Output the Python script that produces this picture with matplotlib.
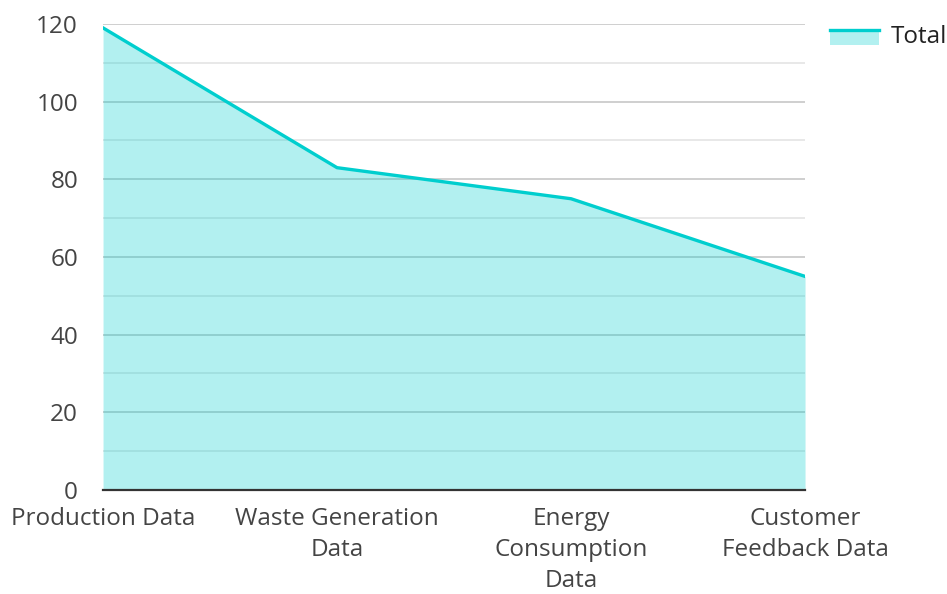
import numpy as np
import matplotlib.pyplot as plt
from matplotlib.patches import Rectangle
from matplotlib.lines import Line2D

plt.rcParams['font.family'] = ['Open Sans', 'DejaVu Sans']

# data
categories = ["Production Data", "Waste Generation\nData", "Energy\nConsumption\nData", "Customer\nFeedback Data"]
totals = [119, 83, 75, 55]

line_color = '#00cece'


# legend key: light box with the line along its top edge
class AreaHandler:
    def legend_artist(self, legend, orig_handle, fontsize, handlebox):
        x0, y0 = handlebox.xdescent, handlebox.ydescent
        w, h = handlebox.width, handlebox.height
        box = Rectangle((x0, y0 - 0.1 * h), w, 0.85 * h, facecolor=line_color, alpha=0.3,
                        linewidth=0, transform=handlebox.get_transform())
        ln = Line2D([x0, x0 + w], [y0 + 0.75 * h, y0 + 0.75 * h], color=line_color,
                    linewidth=2.4, transform=handlebox.get_transform())
        handlebox.add_artist(box)
        handlebox.add_artist(ln)
        return box


fig = plt.figure(figsize=(9.47, 5.94), dpi=100)
ax = fig.add_axes([0.1088, 0.1751, 0.7413, 0.7845])

x = np.arange(len(categories))
ax.fill_between(x, totals, 0, color=line_color, alpha=0.3, linewidth=0, zorder=2)
ax.plot(x, totals, color=line_color, linewidth=2.4, zorder=3)

ax.set_xlim(0, len(categories) - 1)
ax.set_ylim(0, 120)
ax.set_yticks(np.arange(0, 121, 20))
ax.set_yticks(np.arange(10, 120, 20), minor=True)
ax.set_xticks(x)
ax.set_xticklabels(categories, linespacing=1.4)

# grid
ax.grid(axis='y', which='major', color='#cccccc', linewidth=1.3, zorder=1)
ax.grid(axis='y', which='minor', color='#e6e6e6', linewidth=1.3, zorder=1)
ax.set_axisbelow(True)

for side in ['top', 'right', 'left']:
    ax.spines[side].set_visible(False)
ax.spines['bottom'].set_color('#333333')
ax.spines['bottom'].set_linewidth(1.6)
ax.spines['bottom'].set_zorder(4)

ax.tick_params(axis='both', which='both', length=0, labelsize=17.5, labelcolor='#444444')
ax.tick_params(axis='y', pad=18)
ax.tick_params(axis='x', pad=12)

# legend
fig.legend(["area"], ["Total"], handler_map={str: AreaHandler()},
           loc='center left', bbox_to_anchor=(0.876, 0.938),
           frameon=False, fontsize=17.5, handlelength=2.05, handletextpad=0.45,
           borderpad=0, borderaxespad=0, labelcolor='#222222')

plt.savefig('out.png', dpi=100)
